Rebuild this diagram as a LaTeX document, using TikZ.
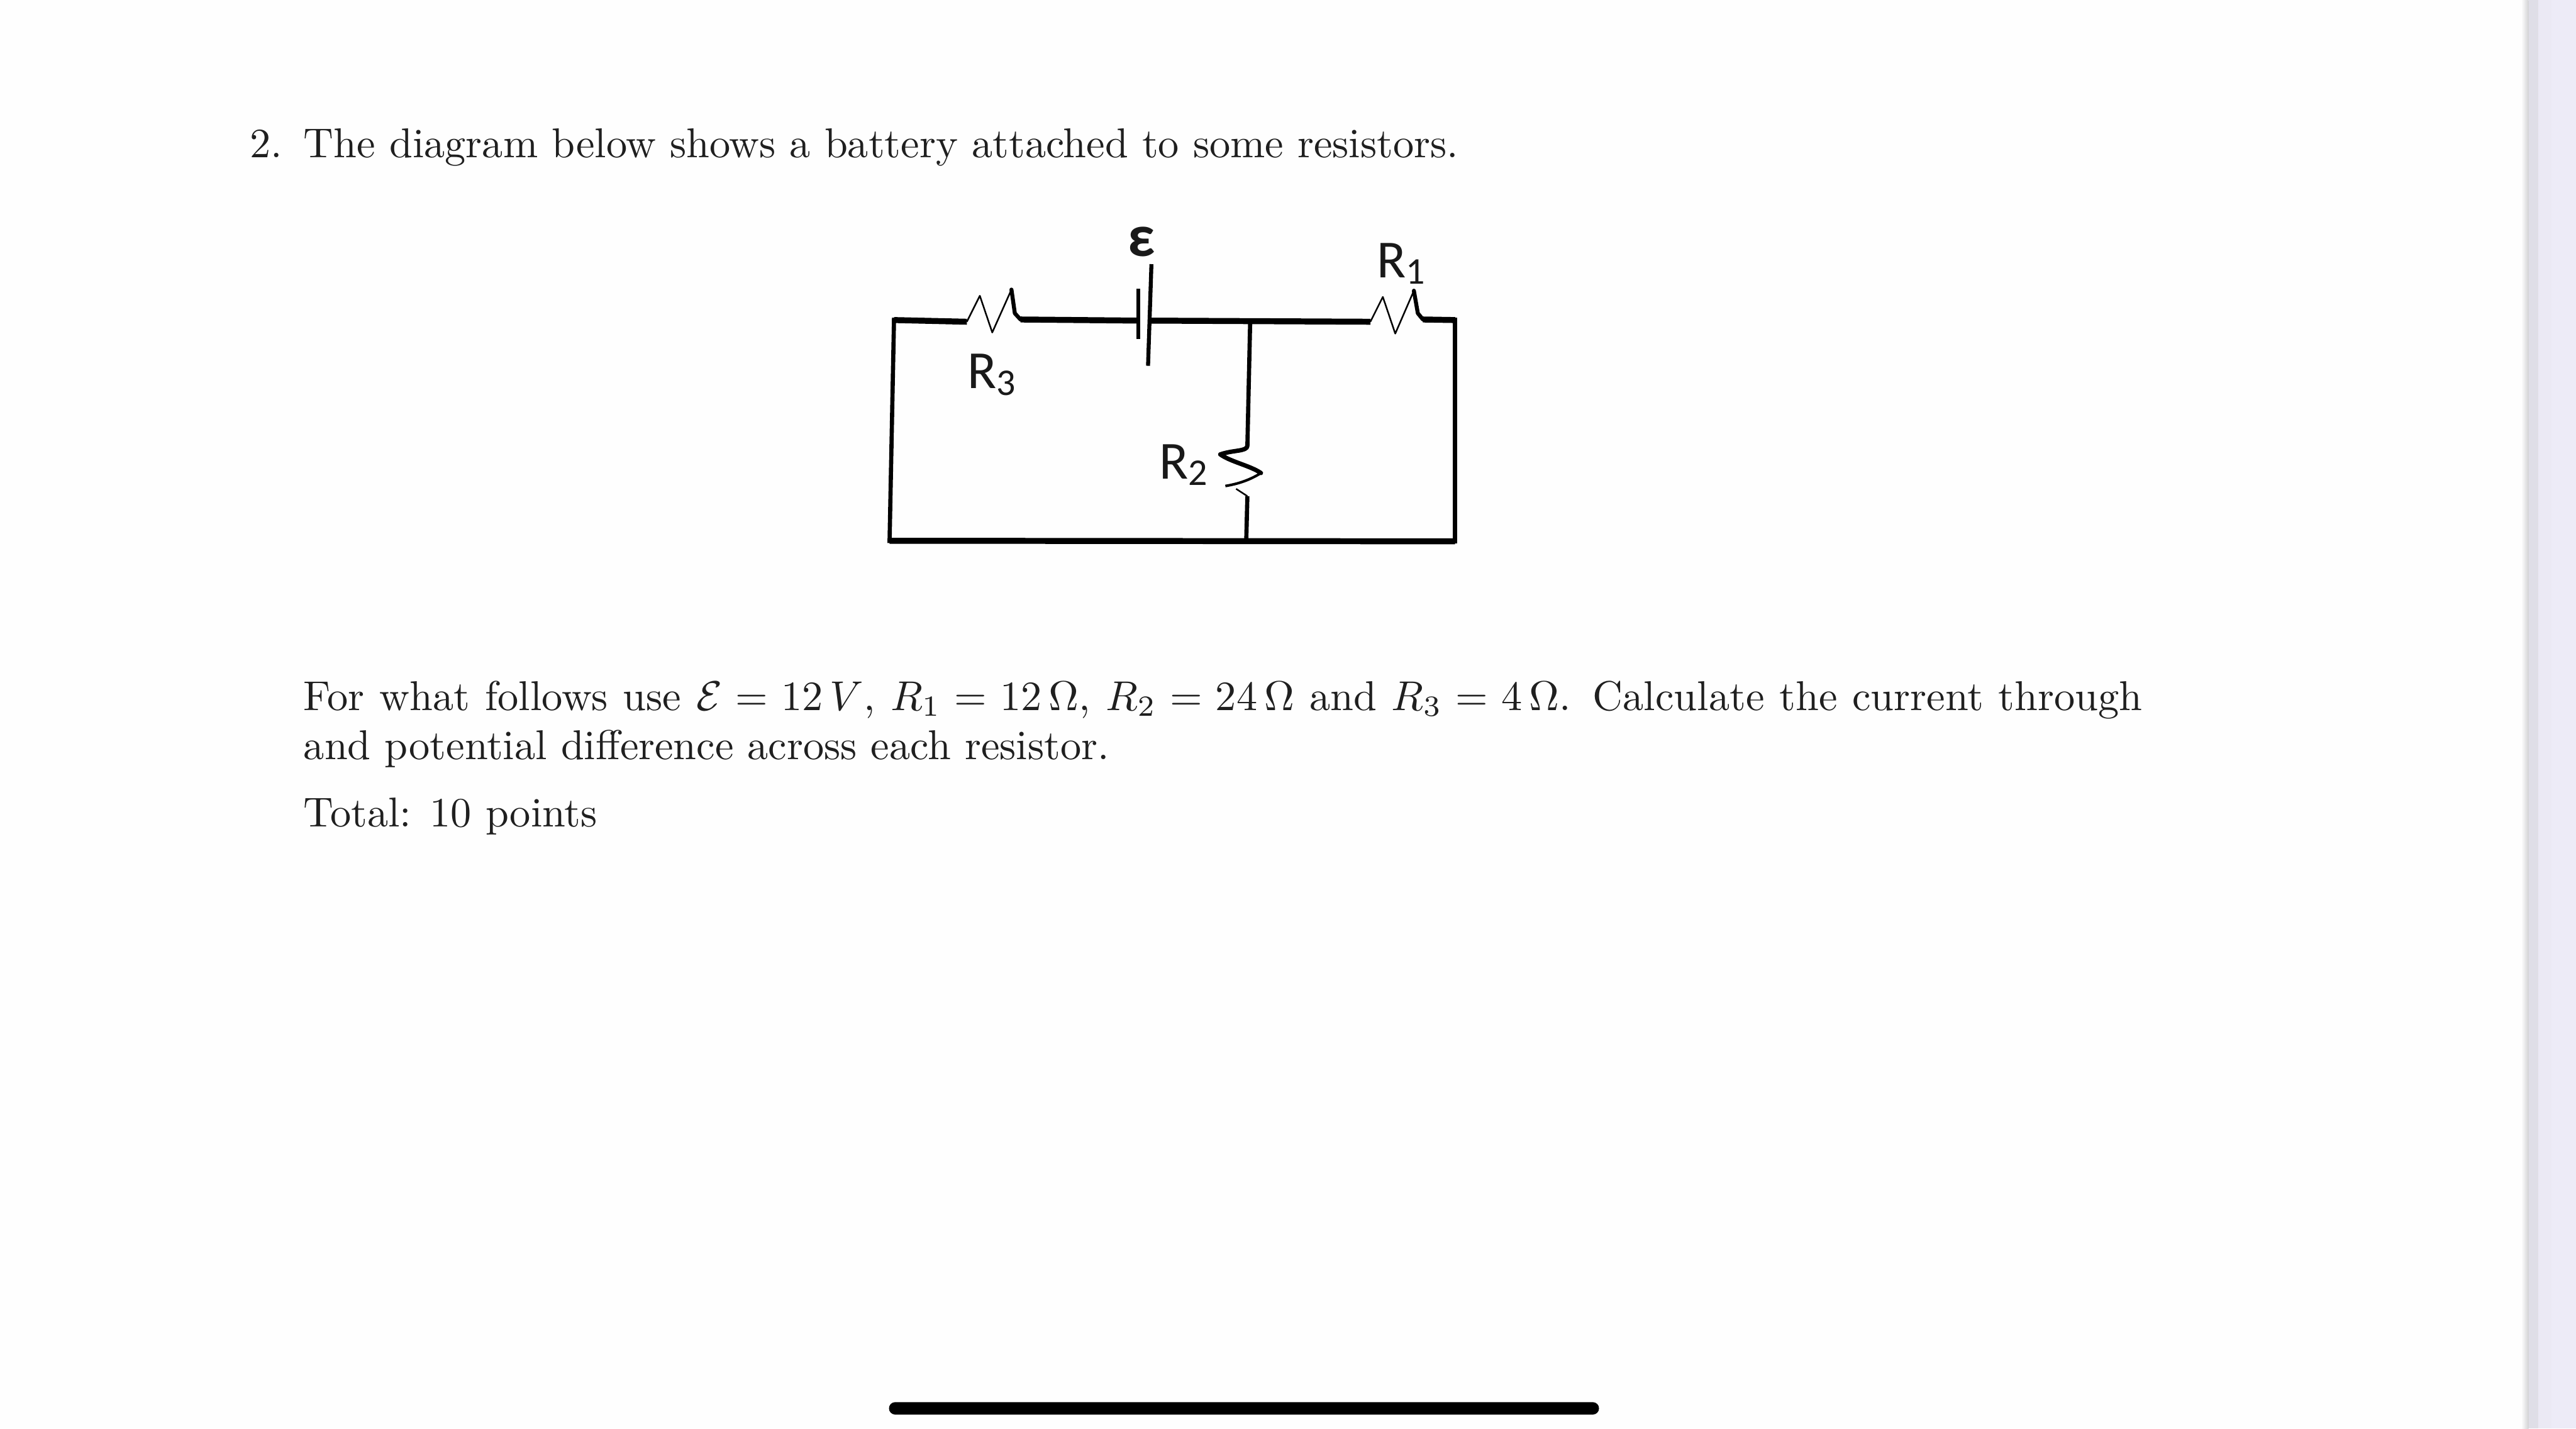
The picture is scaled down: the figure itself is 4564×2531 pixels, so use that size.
\documentclass[tikz,border=0pt]{standalone}
\usepackage{fontspec}
\newfontfamily\labelfont{Carlito}
\definecolor{pagebg}{HTML}{FEFEFE}
\definecolor{stripA}{HTML}{DFDEE7}
\definecolor{stripB}{HTML}{E9E8F1}
\definecolor{stripC}{HTML}{EBE9F4}
\definecolor{stripD}{HTML}{EDEBF7}
\definecolor{shade}{HTML}{D2D2D5}
\tikzset{
  x=0.01cm,y=-0.01cm,
  doc/.style={anchor=base west,inner sep=0,outer sep=0,scale=2.102,transform shape,font=\fontsize{10pt}{12pt}\selectfont,text=black!88},
  lab/.style={inner sep=0,outer sep=0,font=\labelfont\fontsize{27pt}{30pt}\selectfont,text=black!90},
  wire/.style={line width=3pt,line join=miter,line cap=butt,black},
  thinwire/.style={line width=2.1pt,black},
  zig/.style={line width=0.8pt,line join=round,black},
  zigpeak/.style={line width=2pt,line join=round,line cap=round,black},
  zigthick/.style={line width=2.2pt,line join=round,line cap=round,black},
  plate/.style={line width=2pt,black},
}
\newcommand{\subdig}[1]{\raisebox{-0.12em}{\fontsize{19pt}{20pt}\selectfont #1}}
\begin{document}
\begin{tikzpicture}
\useasboundingbox (0,0) rectangle (4564,2531);
\fill[pagebg] (0,0) rectangle (4564,2531);
\fill[stripD] (4520,0) rectangle (4564,2531);
\fill[stripC] (4497,0) rectangle (4520,2531);
\fill[stripA] (4480,0) rectangle (4497,2531);
\shade[left color=pagebg,right color=shade] (4467,0) rectangle (4480,2531);
\fill[black,rounded corners=0.11cm] (1575,2484) rectangle (2833,2506);

% text
\node[doc] (num) at (443,279) {2.};
\node[doc] (q1) at (538,279) {The diagram below shows a battery attached to some resistors.};
\node[doc] (p1) at (538,1258) {\makebox[15.49cm][s]{For what follows use $\mathcal{E}=12\,V$, $R_1=12\,\Omega$, $R_2=24\,\Omega$ and $R_3=4\,\Omega$. Calculate the current through}};
\node[doc] (p2) at (538,1346) {and potential difference across each resistor.};
\node[doc] (tot) at (538,1465) {Total: 10 points};

% circuit points
\coordinate (tl) at (1584,567);
\coordinate (bl) at (1576,958);
\coordinate (tr) at (2578,567);
\coordinate (br) at (2578,959);
\coordinate (jt) at (2215,567);
\coordinate (jb) at (2208,958);
\coordinate (r3a) at (1713,570);
\coordinate (r3b) at (1808,566);
\coordinate (batl) at (2017,568);
\coordinate (batr) at (2037,568);
\coordinate (r1a) at (2428,570);
\coordinate (r1b) at (2521,566);
\coordinate (r2a) at (2210,790);
\coordinate (r2b) at (2210,879);

% wires
\draw[wire] (bl) -- (br);
\draw[wire] (tl) -- (r3a);
\draw[wire] (r3b) -- (batl);
\draw[wire] (batr) -- (r1a);
\draw[wire] (r1b) -- (tr);
\draw[thinwire] ([yshift=0.04cm]tl) -- ([yshift=-0.04cm]bl);
\draw[thinwire] ([yshift=0.04cm]tr) -- ([yshift=-0.04cm]br);
\draw[thinwire] (jt) -- (r2a);
\draw[thinwire] (r2b) -- (jb);

% resistors
\draw[zig] (r3a) -- (1736,524) -- (1758,589) -- (1792,513);
\draw[zigpeak] (1792,513) -- (1798,555) -- (r3b);
\draw[zig] (r1a) -- (2450,526) -- (2472,591) -- (2505,515);
\draw[zigpeak] (2505,515) -- (2512,555) -- (r1b);
\draw[zigthick] (r2a) .. controls (2209,800) and (2185,797) .. (2162,805)
  .. controls (2180,818) and (2215,825) .. (2234,838);
\draw[line width=1.3pt,black] (2234,838) .. controls (2215,850) and (2195,857) .. (2171,861);
\draw[zig] (2190,866) -- (r2b);

% battery
\draw[plate] (2017,512) -- (2017,601);
\draw[plate] (2040,468) -- (2034,648);

% labels
\node[lab] (lE) at (2022,428) {\fontsize{30pt}{30pt}\selectfont\bfseries ε};
\node[lab] (lR1) at (2482,467) {R\subdig{1}};
\node[lab] (lR3) at (1757,664) {R\subdig{3}};
\node[lab] (lR2) at (2097,824) {R\subdig{2}};
\end{tikzpicture}
\end{document}
